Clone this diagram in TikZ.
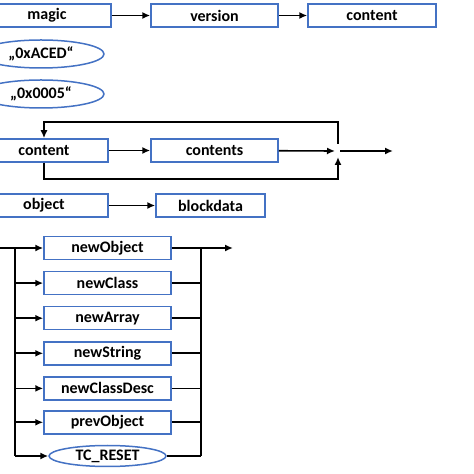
\documentclass[tikz,border=0pt]{standalone}
\usepackage{fontspec}
\setmainfont{Carlito}
\usetikzlibrary{shapes.geometric, arrows.meta, positioning, calc}
\definecolor{boxblue}{RGB}{68,114,196}
\tikzset{
    box/.style={rectangle, minimum width=127pt, minimum height=23pt, inner sep=0pt, text centered, draw=boxblue, line width=1.5pt, fill=white, font=\fontsize{16}{18}\selectfont\bfseries},
    wordbox/.style={box, minimum width=128pt},
    terminal/.style={ellipse, minimum width=126pt, minimum height=28pt, inner sep=0pt, draw=boxblue, line width=1.5pt, fill=white, font=\fontsize{16}{18}\selectfont\bfseries},
    arrow/.style={line width=1.6pt,-{Latex[length=8pt,width=7pt]}},
    rail/.style={line width=1.6pt}
}
\begin{document}
\begin{tikzpicture}[x=1pt, y=1pt]
\useasboundingbox (0,0) rectangle (474,474);

% Stream header
\node (magic) [wordbox] at (47,458.5) {magic};
\node (version) [box, right=38.5pt of magic] {version};
\node (content) [wordbox, right=28.5pt of version] {content};
\draw [arrow] (magic) -- (version);
\draw [arrow] (version) -- (content);

% Constants
\node (aced) [terminal] at (41,420) {„0xACED“};
\node (vers) [terminal] at (41,380) {„0x0005“};

% content loop
\node (contentb) [wordbox] at (44,323.5) {content};
\node (contents) [box, right=41.5pt of contentb] {contents};
\coordinate (junc) at (338,323);
\coordinate (exit) at (393,323);
\draw [arrow] (contentb) -- (contents);
\draw [arrow] (contents) -- ([xshift=-3pt]junc);
\draw [arrow] ([xshift=2pt]junc) -- (exit);
\draw [arrow] ([yshift=7pt]junc) |- ($(contentb.north)+(0,16)$) -- (contentb.north);
\draw [arrow] (contentb.south) -- ++(0,-16) -| ([yshift=-6pt]junc);

% object or blockdata
\node (object) [wordbox] at (44,268.5) {object};
\node (blockdata) [box, minimum width=109pt, right=46.5pt of object] {blockdata};
\draw [arrow] (object) -- (blockdata);

% object alternatives
\node (newObject) [box] at (107.5,226) {newObject};
\node (newClass) [box, below=10.6pt of newObject] {newClass};
\node (newArray) [box, below=10.6pt of newClass] {newArray};
\node (newString) [box, below=10.6pt of newArray] {newString};
\node (newClassDesc) [box, below=10.6pt of newString] {newClassDesc};
\node (prevObject) [box, below=9.4pt of newClassDesc] {prevObject};
\node (reset) [terminal, minimum width=117pt, minimum height=21pt, below=10.2pt of prevObject] {TC\_RESET};

\coordinate (entry) at (-5,226);
\coordinate (ltop) at (15,226);
\coordinate (rtop) at (201,226);
\coordinate (out) at (233,226);

\draw [arrow] (entry) -- (newObject);
\draw [arrow] (newObject) -- (out);
\draw [rail] (ltop) -- (ltop |- reset);
\draw [rail] (rtop) -- (rtop |- reset);
\foreach \n in {newClass, newArray, newString, newClassDesc, prevObject, reset} {
    \draw [arrow] (ltop |- \n) -- (\n);
    \draw [rail] (\n) -- (rtop |- \n);
}

\end{tikzpicture}
\end{document}
